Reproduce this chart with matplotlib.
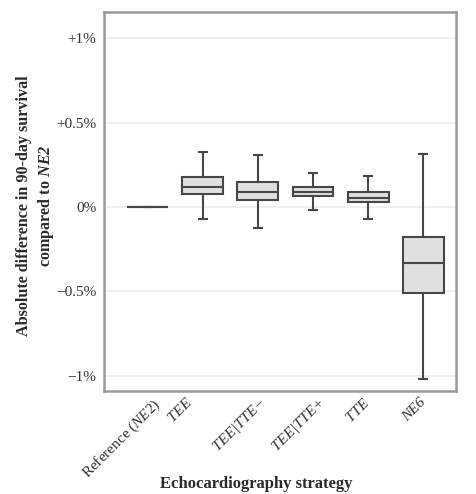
import matplotlib
matplotlib.use("Agg")
import matplotlib.pyplot as plt
import matplotlib.transforms as mtransforms

plt.rcParams['font.family'] = ['Liberation Serif', 'DejaVu Serif']
plt.rcParams['mathtext.fontset'] = 'custom'
plt.rcParams['mathtext.rm'] = 'Liberation Serif'
plt.rcParams['mathtext.it'] = 'Liberation Serif:italic'
plt.rcParams['mathtext.bf'] = 'Liberation Serif:bold'
plt.rcParams['mathtext.bfit'] = 'Liberation Serif:italic:bold'

# strategies and box statistics (absolute difference, in %)
labels = ['Reference ($\\mathit{NE2}$)', 'TEE', 'TEE|TTE\u2212', 'TEE|TTE+', 'TTE', 'NE6']
italic = [False, True, True, True, True, True]
whislo = [0.0, -0.071, -0.122, -0.020, -0.069, -1.020]
q1 = [0.0, 0.080, 0.040, 0.064, 0.028, -0.511]
med = [0.0, 0.119, 0.089, 0.089, 0.056, -0.333]
q3 = [0.0, 0.178, 0.147, 0.117, 0.089, -0.180]
whishi = [0.0, 0.325, 0.309, 0.202, 0.182, 0.315]

yticks = [1, 0.5, 0, -0.5, -1]
yticklabels = ['+1%', '+0.5%', '0%', '\u22120.5%', '\u22121%']

stats = []
for i in range(len(labels)):
    stats.append(dict(whislo=whislo[i], q1=q1[i], med=med[i], q3=q3[i],
                      whishi=whishi[i], fliers=[]))

fig = plt.figure(figsize=(4.76, 4.94), dpi=100)
ax = fig.add_axes([0.2195, 0.2085, 0.7385, 0.767])

edge = '#474747'
ax.bxp(stats, positions=range(len(labels)), widths=0.74, capwidths=0.145,
       patch_artist=True, showfliers=False,
       boxprops=dict(facecolor='#e0e0e0', edgecolor=edge, linewidth=1.5),
       medianprops=dict(color=edge, linewidth=1.5),
       whiskerprops=dict(color=edge, linewidth=1.5),
       capprops=dict(color=edge, linewidth=1.5))

ax.set_xlim(-0.78, 5.59)
ax.set_ylim(-1.09, 1.156)
ax.set_yticks(yticks)
ax.set_yticklabels(yticklabels)
ax.grid(axis='y', color='#ececec', linewidth=1.2)
ax.set_axisbelow(True)
ax.tick_params(length=0, labelsize=11, labelcolor='#333333')
ax.tick_params(axis='y', pad=6)

ax.set_xticks(range(len(labels)))
ax.set_xticklabels(labels)
# the rotated labels in the original sit a little unevenly around their ticks
shift_px = [5, -18, 1, 5, -6, -4]
for lab, it, dx in zip(ax.get_xticklabels(), italic, shift_px):
    lab.set_rotation(45)
    lab.set_ha('right')
    lab.set_rotation_mode('anchor')
    lab.set_fontstyle('italic' if it else 'normal')
    off = mtransforms.ScaledTranslation(dx / 100, 0, fig.dpi_scale_trans)
    lab.set_transform(lab.get_transform() + off)

for s in ax.spines.values():
    s.set_color('#9a9a9a')
    s.set_linewidth(1.8)

ax.set_ylabel('Absolute difference in 90-day survival\ncompared to $\\mathbfit{NE2}$',
              fontsize=11.6, fontweight='bold', color='#2a2a2a', linespacing=1.3)
ax.yaxis.set_label_coords(-0.137, 0.49)
ax.set_xlabel('Echocardiography strategy', fontsize=12, fontweight='bold', color='#2a2a2a')
ax.xaxis.set_label_coords((256 - 104.5) / 351.5, -0.2245)

fig.savefig('out.png', dpi=100)
